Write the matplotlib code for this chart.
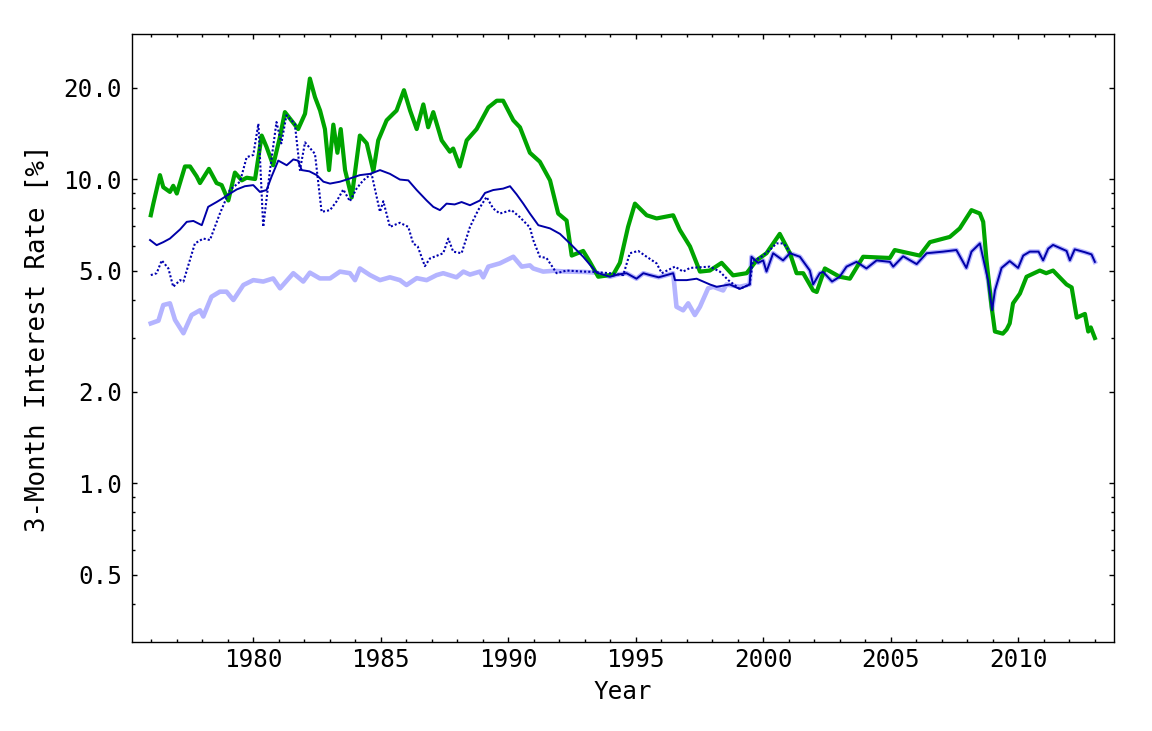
import numpy as np
import matplotlib.pyplot as plt
from matplotlib.ticker import FixedLocator, FormatStrFormatter, NullFormatter, MultipleLocator

# thick green series
green_years = [1975.98, 1976.08, 1976.34, 1976.47, 1976.73, 1976.86, 1977.0, 1977.32, 1977.52, 1977.78,
               1977.91, 1978.26, 1978.56, 1978.76, 1979.02, 1979.28, 1979.55, 1979.74, 1980.07, 1980.33,
               1980.52, 1980.78, 1981.05, 1981.24, 1981.57, 1981.76, 1982.03, 1982.22, 1982.42, 1982.62,
               1982.81, 1982.97, 1983.14, 1983.3, 1983.43, 1983.6, 1983.86, 1984.18, 1984.45, 1984.71,
               1984.9, 1985.23, 1985.49, 1985.62, 1985.91, 1986.15, 1986.41, 1986.67, 1986.86, 1987.06,
               1987.39, 1987.71, 1987.84, 1988.1, 1988.37, 1988.76, 1989.22, 1989.55, 1989.8, 1990.2,
               1990.46, 1990.85, 1991.24, 1991.64, 1991.96, 1992.29, 1992.49, 1992.94, 1993.2, 1993.53,
               1994.12, 1994.38, 1994.7, 1994.97, 1995.43, 1995.82, 1996.47, 1996.73, 1997.13, 1997.52,
               1997.91, 1998.37, 1998.82, 1999.35, 1999.74, 2000.13, 2000.65, 2001.05, 2001.31, 2001.57,
               2001.96, 2002.1, 2002.42, 2003.0, 2003.4, 2003.92, 2004.97, 2005.16, 2006.14, 2006.54,
               2007.32, 2007.71, 2008.17, 2008.5, 2008.63, 2008.76, 2008.96, 2009.09, 2009.4, 2009.55,
               2009.67, 2009.8, 2010.07, 2010.33, 2010.85, 2011.1, 2011.37, 2011.9, 2012.1, 2012.3,
               2012.62, 2012.75, 2012.85, 2013.01]
green_vals = [7.6, 8.3, 10.3, 9.4, 9.07, 9.5, 8.96, 11.0, 11.0, 10.2,
              9.7, 10.8, 9.7, 9.55, 8.5, 10.5, 9.9, 10.1, 10.0, 13.9,
              12.75, 11.1, 13.8, 16.6, 15.3, 14.6, 16.4, 21.4, 18.6, 16.8,
              14.6, 10.7, 15.1, 12.2, 14.6, 10.7, 8.7, 13.9, 13.1, 10.6,
              13.4, 15.6, 16.4, 16.8, 19.6, 16.8, 14.6, 17.6, 14.8, 16.6,
              13.4, 12.3, 12.6, 11.0, 13.4, 14.6, 17.2, 18.1, 18.1, 15.6,
              14.8, 12.2, 11.4, 9.9, 7.7, 7.3, 5.6, 5.8, 5.34, 4.77,
              4.85, 5.3, 6.96, 8.3, 7.6, 7.42, 7.6, 6.8, 6.0, 4.96,
              5.0, 5.3, 4.82, 4.9, 5.4, 5.7, 6.6, 5.7, 4.9, 4.9,
              4.3, 4.25, 5.08, 4.77, 4.7, 5.55, 5.5, 5.84, 5.6, 6.2,
              6.45, 6.88, 7.9, 7.7, 7.23, 5.4, 3.8, 3.15, 3.1, 3.2,
              3.35, 3.9, 4.2, 4.77, 5.0, 4.9, 5.0, 4.5, 4.4, 3.5,
              3.6, 3.15, 3.25, 3.0]

# thin solid navy series
blue_years = [1975.95, 1976.21, 1976.47, 1976.73, 1977.13, 1977.39, 1977.65, 1977.98, 1978.23, 1978.56,
              1978.76, 1979.09, 1979.35, 1979.67, 1980.0, 1980.26, 1980.52, 1980.72, 1980.98, 1981.31,
              1981.57, 1981.75, 1981.9, 1982.2, 1982.49, 1982.75, 1983.01, 1983.4, 1983.79, 1984.18,
              1984.58, 1984.97, 1985.36, 1985.75, 1986.08, 1986.41, 1986.8, 1987.06, 1987.32, 1987.58,
              1987.9, 1988.17, 1988.5, 1988.89, 1989.09, 1989.41, 1989.8, 1990.07, 1990.33, 1990.59,
              1990.85, 1991.18, 1991.64, 1992.03, 1992.42, 1992.94, 1993.47, 1993.99, 1994.3, 1994.64,
              1995.03, 1995.3, 1995.56, 1995.9, 1996.21, 1996.47, 1996.54, 1997.0, 1997.39, 1997.91,
              1998.17, 1998.69, 1999.08, 1999.47, 1999.54, 1999.8, 2000.0, 2000.13, 2000.39, 2000.78,
              2001.05, 2001.44, 2001.83, 2001.96, 2002.22, 2002.35, 2002.7, 2003.0, 2003.27, 2003.66,
              2004.05, 2004.45, 2004.97, 2005.1, 2005.49, 2006.02, 2006.41, 2007.06, 2007.58, 2007.97,
              2008.17, 2008.5, 2008.82, 2008.98, 2009.09, 2009.35, 2009.67, 2010.0, 2010.2, 2010.46,
              2010.8, 2010.98, 2011.18, 2011.37, 2011.9, 2012.03, 2012.22, 2012.6, 2012.88, 2013.01]
blue_vals = [6.3, 6.06, 6.2, 6.37, 6.83, 7.23, 7.28, 7.05, 8.1, 8.4,
             8.6, 8.96, 9.24, 9.47, 9.55, 9.07, 9.2, 10.2, 11.5, 11.1,
             11.6, 11.5, 10.7, 10.6, 10.3, 9.8, 9.66, 9.8, 10.04, 10.3,
             10.4, 10.7, 10.4, 9.96, 9.9, 9.2, 8.5, 8.1, 7.9, 8.3,
             8.25, 8.4, 8.2, 8.5, 9.0, 9.2, 9.3, 9.47, 8.9, 8.3,
             7.7, 7.05, 6.88, 6.6, 6.14, 5.55, 4.92, 4.77, 4.85, 4.9,
             4.7, 4.9, 4.83, 4.75, 4.83, 4.9, 4.65, 4.65, 4.7, 4.5,
             4.42, 4.5, 4.35, 4.5, 5.55, 5.3, 5.4, 4.96, 5.7, 5.4,
             5.7, 5.55, 5.0, 4.5, 4.9, 4.95, 4.6, 4.77, 5.15, 5.34,
             5.08, 5.4, 5.34, 5.15, 5.57, 5.25, 5.7, 5.77, 5.84, 5.1,
             5.77, 6.14, 4.65, 3.7, 4.3, 5.1, 5.37, 5.1, 5.6, 5.77,
             5.77, 5.4, 5.9, 6.07, 5.8, 5.4, 5.87, 5.75, 5.65, 5.34]

# dotted navy series
dot_years = [1975.98, 1976.21, 1976.41, 1976.67, 1976.86, 1977.13, 1977.26, 1977.71, 1978.04, 1978.3,
             1978.69, 1979.08, 1979.48, 1979.74, 1980.0, 1980.2, 1980.39, 1980.65, 1980.91, 1981.1,
             1981.3, 1981.63, 1981.83, 1982.03, 1982.42, 1982.68, 1983.01, 1983.27, 1983.53, 1983.79,
             1984.05, 1984.31, 1984.64, 1984.84, 1984.97, 1985.1, 1985.36, 1985.75, 1986.08, 1986.27,
             1986.45, 1986.73, 1986.93, 1987.45, 1987.65, 1987.84, 1988.17, 1988.5, 1988.82, 1989.15,
             1989.41, 1989.67, 1990.13, 1990.45, 1990.85, 1990.98, 1991.24, 1991.5, 1991.9, 1992.29,
             1992.94, 1993.33, 1993.99, 1994.51, 1994.77, 1995.1, 1995.43, 1995.82, 1996.02, 1996.54,
             1996.86, 1997.13, 1997.91, 1998.3, 1998.63, 1999.08, 1999.47, 1999.6, 1999.87, 2000.26,
             2000.52, 2000.78, 2000.91, 2001.05]
dot_vals = [4.83, 4.9, 5.4, 5.08, 4.42, 4.65, 4.6, 6.14, 6.37, 6.3,
            7.7, 9.2, 9.8, 11.8, 12.0, 15.2, 6.96, 10.6, 15.4, 13.1,
            16.2, 15.2, 10.7, 13.2, 12.1, 7.8, 7.9, 8.45, 9.24, 8.45,
            9.3, 9.9, 10.4, 8.73, 7.8, 8.45, 6.96, 7.18, 6.96, 6.14,
            6.0, 5.17, 5.48, 5.7, 6.37, 5.77, 5.7, 6.96, 7.9, 8.73,
            8.0, 7.7, 7.9, 7.5, 6.93, 6.3, 5.55, 5.5, 4.9, 5.0,
            4.96, 4.95, 4.9, 4.83, 5.7, 5.8, 5.55, 5.28, 4.9, 5.15,
            4.96, 5.1, 5.15, 4.96, 4.65, 4.35, 4.5, 5.4, 5.5, 5.84,
            6.14, 6.14, 6.0, 5.7]

# thick light blue series (own values; elsewhere it runs under the navy line)
light_years_a = [1975.98, 1976.28, 1976.47, 1976.73, 1976.93, 1977.26, 1977.58, 1977.91, 1978.04, 1978.36,
                 1978.69, 1978.95, 1979.22, 1979.61, 1980.0, 1980.39, 1980.78, 1981.05, 1981.57, 1981.96,
                 1982.22, 1982.61, 1983.01, 1983.4, 1983.79, 1983.99, 1984.18, 1984.58, 1984.97, 1985.36,
                 1985.75, 1986.01, 1986.41, 1986.8, 1987.19, 1987.45, 1987.97, 1988.24, 1988.5, 1988.89,
                 1989.02, 1989.22, 1989.67, 1990.2, 1990.53, 1990.85, 1990.98, 1991.37, 1991.77, 1992.29,
                 1992.94]
light_vals_a = [3.35, 3.42, 3.85, 3.9, 3.44, 3.11, 3.57, 3.7, 3.53, 4.1,
                4.26, 4.26, 4.0, 4.48, 4.65, 4.6, 4.71, 4.37, 4.9, 4.6,
                4.92, 4.71, 4.71, 4.96, 4.9, 4.65, 5.08, 4.83, 4.65, 4.75,
                4.65, 4.48, 4.72, 4.65, 4.83, 4.9, 4.75, 4.96, 4.85, 4.96,
                4.75, 5.15, 5.28, 5.55, 5.15, 5.2, 5.08, 4.96, 4.99, 4.96,
                4.95]
light_years_b = [1996.6, 1996.86, 1997.06, 1997.32, 1997.52, 1997.84, 1998.04, 1998.43, 1998.56, 1999.08]
light_vals_b = [3.8, 3.7, 3.9, 3.57, 3.8, 4.37, 4.42, 4.3, 4.5, 4.42]

blue_years = np.array(blue_years)
blue_vals = np.array(blue_vals)
seg1 = (blue_years >= 1993.4) & (blue_years <= 1996.5)
seg2 = blue_years >= 1999.4
light_years = np.concatenate([light_years_a, blue_years[seg1], light_years_b, blue_years[seg2]])
light_vals = np.concatenate([light_vals_a, blue_vals[seg1], light_vals_b, blue_vals[seg2]])

plt.rcParams['font.family'] = ['DejaVu Sans Mono']

fig = plt.figure(figsize=(11.52, 7.31), dpi=100)
ax = fig.add_axes([0.1143, 0.1218, 0.8527, 0.8317])

ax.plot(light_years, light_vals, color='#b4b4ff', lw=3.3, solid_joinstyle='round', zorder=2)
ax.plot(green_years, green_vals, color='#00a400', lw=3.0, solid_joinstyle='round', zorder=3)
ax.plot(dot_years, dot_vals, color='#0000b0', lw=1.5, linestyle=(0, (1, 1)), zorder=4)
ax.plot(blue_years, blue_vals, color='#0000a8', lw=1.4, zorder=5)

ax.set_yscale('log')
ax.set_ylim(0.3, 30)
ax.set_xlim(1975.23, 2013.76)

ax.yaxis.set_major_locator(FixedLocator([0.5, 1, 2, 5, 10, 20]))
ax.yaxis.set_major_formatter(FormatStrFormatter('%.1f'))
ax.yaxis.set_minor_locator(FixedLocator([0.4, 0.6, 0.7, 0.8, 0.9, 3, 4, 6, 7, 8, 9]))
ax.yaxis.set_minor_formatter(NullFormatter())
ax.xaxis.set_major_locator(MultipleLocator(5))
ax.xaxis.set_minor_locator(MultipleLocator(1))

ax.tick_params(which='both', direction='in', top=True, right=True, width=1.0)
ax.tick_params(which='major', length=3.3)
ax.tick_params(which='minor', length=2.2)
ax.tick_params(axis='y', which='major', labelsize=17.5, pad=7)
ax.tick_params(axis='x', which='major', labelsize=17.5, pad=4)
for s in ax.spines.values():
    s.set_linewidth(1.0)

ax.set_xlabel('Year', fontsize=17.5, labelpad=6)
ax.set_ylabel('3-Month Interest Rate [%]', fontsize=18.5, labelpad=9)

fig.savefig('out.png', dpi=100)
